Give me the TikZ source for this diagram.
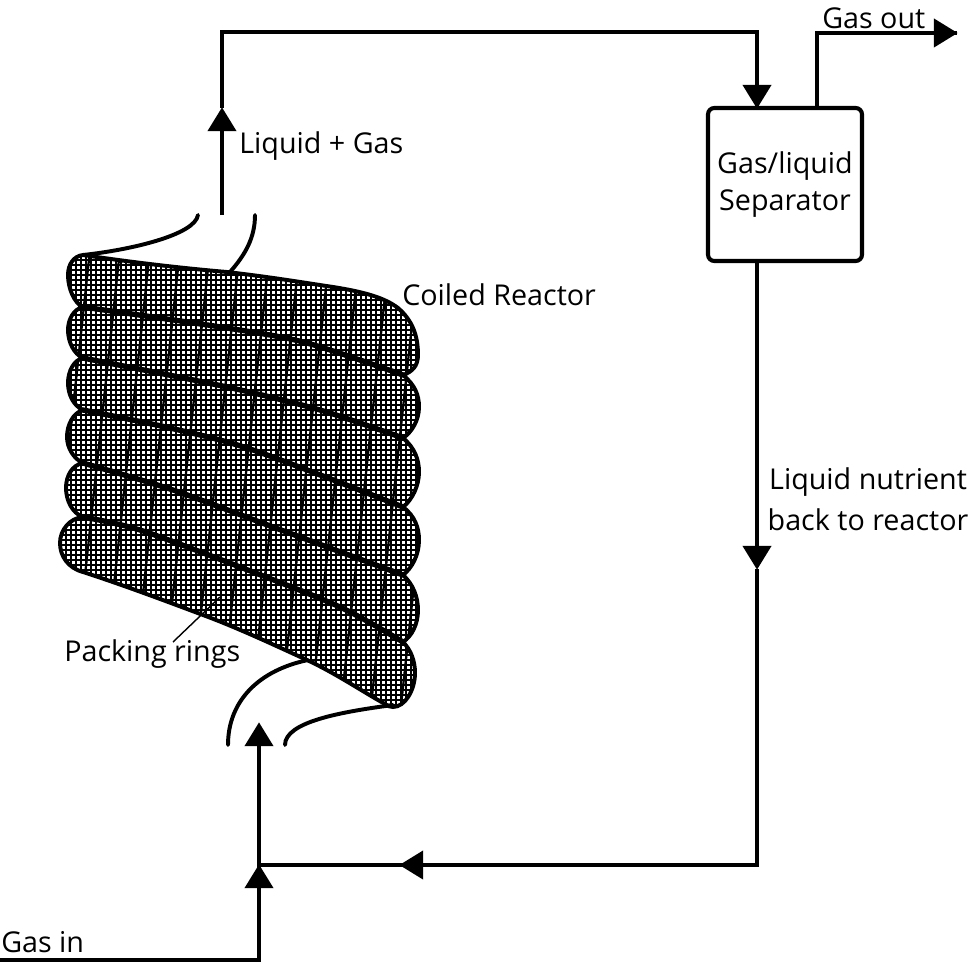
\documentclass[tikz,border=0pt]{standalone}
\usepackage{fontspec}
\setmainfont{Open Sans}
\usetikzlibrary{arrows.meta}
\tikzset{
    flow/.style = {line width = 2.9pt, line join = miter},
    tip/.style = {flow, -{Triangle[length = 17pt, width = 20pt]}, shorten >= -0.5pt},
    wall/.style = {line width = 2.8pt, line cap = round},
    turn/.style = {line width = 3.8pt, line cap = round},
    mesh/.style = {line width = 1.95pt},
    slat/.style = {line width = 1.6pt},
    lbl/.style = {inner sep = 0pt, align = center, font = \fontsize{20.4}{29.5}\selectfont},
    box/.style = {draw, line width = 2.9pt, rounded corners = 4.5pt, inner sep = 0pt,
        minimum width = 154*0.025cm, minimum height = 153*0.025cm, align = center,
        font = \fontsize{20.4}{26.5}\selectfont}
}
\newcommand{\coilpath}{(83,255)
    .. controls (130,262) and (180,268) .. (227,272)
    .. controls (270,277) and (300,282) .. (333,287)
    .. controls (365,292) and (385,298) .. (398,308)
    .. controls (412,320) and (418,335) .. (418,355)
    .. controls (418,366) and (412,372) .. (403,375)
    .. controls (415,385) and (419,395) .. (419,407)
    .. controls (419,420) and (412,432) .. (403,438)
    .. controls (415,448) and (419,460) .. (419,472)
    .. controls (419,486) and (412,500) .. (403,507)
    .. controls (415,516) and (419,528) .. (419,540)
    .. controls (419,555) and (412,568) .. (403,575)
    .. controls (413,584) and (418,597) .. (418,610)
    .. controls (418,624) and (412,636) .. (403,642)
    .. controls (411,650) and (415,661) .. (415,673)
    .. controls (415,690) and (405,707) .. (393,707)
    .. controls (390,707) and (388,706) .. (385,704)
    .. controls (360,690) and (335,673) .. (307,660)
    .. controls (272,644) and (238,628) .. (203,615)
    .. controls (163,600) and (123,585) .. (83,572)
    .. controls (68,568) and (60,556) .. (60,543)
    .. controls (60,530) and (70,518) .. (83,517)
    .. controls (72,513) and (66,500) .. (66,488)
    .. controls (66,476) and (72,465) .. (83,463)
    .. controls (74,459) and (67,448) .. (67,437)
    .. controls (67,425) and (73,413) .. (83,410)
    .. controls (74,406) and (68,395) .. (68,383)
    .. controls (68,371) and (74,360) .. (83,358)
    .. controls (74,354) and (68,342) .. (68,330)
    .. controls (68,319) and (74,309) .. (83,307)
    .. controls (74,303) and (68,288) .. (68,275)
    .. controls (68,264) and (74,256) .. (83,255) -- cycle}
\begin{document}
\begin{tikzpicture}[x=0.025cm, y=-0.025cm]
\useasboundingbox (0,0) rectangle (977,972);

% coil packing
\begin{scope}
    \clip \coilpath;
    \foreach \i in {56,61,...,426} {\draw[mesh] (\i,245) -- (\i,715);}
    \foreach \j in {250,255,...,710} {\draw[mesh] (55,\j) -- (425,\j);}
    \foreach \i in {90,120,...,480} {\draw[slat] (\i,250) -- (\i-50,715);}
\end{scope}
\draw[wall] \coilpath;
\draw[turn] plot[smooth] coordinates {(83,307) (227,328) (307,343) (403,375)};
\draw[turn] plot[smooth] coordinates {(83,358) (227,387) (320,410) (403,438)};
\draw[turn] plot[smooth] coordinates {(83,410) (170,428) (253,450) (403,507)};
\draw[turn] plot[smooth] coordinates {(83,463) (173,490) (273,527) (403,575)};
\draw[turn] plot[smooth] coordinates {(83,517) (140,530) (240,567) (340,607) (403,642)};

% reactor nozzles
\draw[wall] (83,255) .. controls (130,250) and (195,235) .. (198,215);
\draw[wall] (230,272) .. controls (245,255) and (255,238) .. (255,215);
\draw[wall] (308,660) .. controls (260,670) and (228,700) .. (228,745);
\draw[wall] (393,705) .. controls (340,712) and (285,722) .. (285,745);

% nodes
\node[box] (sep) at (785,184.5) {Gas/liquid\\Separator};
\node[lbl, anchor = west] (top) at (239,146) {Liquid + Gas};
\node[lbl, anchor = west] (coil) at (402,295) {Coiled Reactor};
\node[lbl, anchor = west] (rings) at (64,654) {Packing rings};
\node[lbl, anchor = west] (out) at (822,18) {Gas out};
\node[lbl, anchor = west] (in) at (1,942) {Gas in};
\node[lbl] (back) at (868,499) {Liquid nutrient\\back to reactor};

\coordinate (riser) at (222,215);
\coordinate (riserMid) at (222,108);
\coordinate (topLeft) at (222,32);
\coordinate (topRight) at (757,32);
\coordinate (sepIn) at (757,108);
\coordinate (sepUp) at (817,108);
\coordinate (outCorner) at (817,33);
\coordinate (outEnd) at (957,33);
\coordinate (sepDown) at (757,261);
\coordinate (backMid) at (757,569);
\coordinate (backCorner) at (757,865);
\coordinate (leftMid) at (400,865);
\coordinate (tee) at (259,865);
\coordinate (feed) at (259,723);
\coordinate (gasStart) at (-2,960);
\coordinate (gasCorner) at (259,960);
\coordinate (ringEnd) at (220,597);
\coordinate (ringStart) at (173,642);

% connectors
\draw[tip] (riser) -- (riserMid);
\draw[flow] (riserMid) -- (topLeft) -- (topRight) -- (sepIn);
\draw[tip] (topRight) -- (sepIn);
\draw[flow] (sepUp) -- (outCorner) -- (outEnd);
\draw[tip] (outCorner) -- (outEnd);
\draw[tip] (sepDown) -- (backMid);
\draw[flow] (backMid) -- (backCorner) -- (tee);
\draw[tip] (backCorner) -- (leftMid);
\draw[tip] (tee) -- (feed);
\draw[flow] (gasStart) -- (gasCorner) -- (tee);
\draw[tip] (gasCorner) -- (tee);
\draw[line width = 1pt] (ringStart) -- (ringEnd);
\end{tikzpicture}
\end{document}
